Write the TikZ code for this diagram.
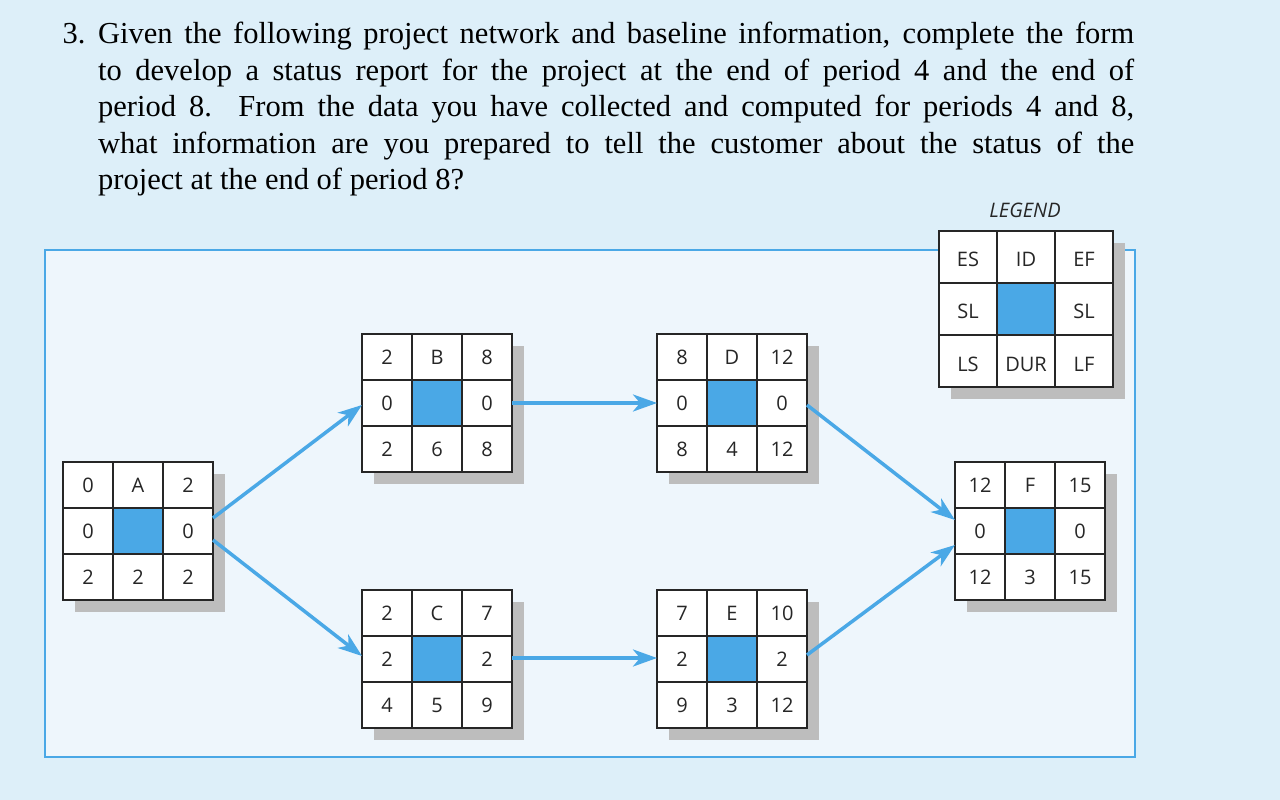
\documentclass[tikz,border=0pt]{standalone}
\usepackage{fontspec}
\setmainfont{Liberation Serif}
\newfontfamily\nsans{Open Sans}
\usetikzlibrary{arrows.meta}
\definecolor{bg}{HTML}{DDEFF9}
\definecolor{panel}{HTML}{EEF6FC}
\definecolor{myblue}{HTML}{4AA8E6}
\definecolor{shad}{HTML}{BDBDBD}
\begin{document}
\begin{tikzpicture}[x=1pt,y=-1pt,
  cell/.style={draw=black!85,line width=1.1pt,fill=white},
  lab/.style={font=\nsans\fontsize{20}{21}\selectfont,text=black!85},
  arr/.style={draw=myblue,line width=3.5pt,-{Stealth[length=24pt,width=17pt,inset=7pt]}}]
\useasboundingbox (0,0) rectangle (1280,800);
\fill[bg] (0,0) rectangle (1280,800);
\node[anchor=north west,inner sep=0pt,text width=1036pt,align=justify,font=\fontsize{30.5}{36.5}\selectfont] (q) at (98,22)
 {\hyphenpenalty=10000\llap{3.\ \,}Given the following project network and baseline information, complete the form\linebreak to develop a status report for the project at the end of period 4 and the end of\linebreak period 8. From the data you have collected and computed for periods 4 and 8,\linebreak what information are you prepared to tell the customer about the status of the\linebreak project at the end of period 8?};
\draw[draw=myblue,line width=2.5pt,fill=panel] (45,250) rectangle (1135,757);
\newcommand{\mybox}[5]{% #1 name, #2 x,#3 y, #4 w, #5 h
  \fill[shad] (#2+12,#3+12) rectangle (#2+3*#4+12,#3+3*#5+12);
  \foreach \i in {0,1,2}{\foreach \j in {0,1,2}{
    \draw[cell] (#2+\i*#4,#3+\j*#5) rectangle (#2+\i*#4+#4,#3+\j*#5+#5);}}
  \fill[myblue] (#2+#4+1,#3+#5+1) rectangle (#2+2*#4-1,#3+2*#5-1);
  \coordinate (#1) at (#2,#3);}
\def\putlabs#1#2#3#4#5#6#7#8#9{%
  \node[lab] at (#1+25,#2+23) {#3}; \node[lab] at (#1+75,#2+23) {#4}; \node[lab] at (#1+125,#2+23) {#5};
  \node[lab] at (#1+25,#2+69) {#6}; \node[lab] at (#1+125,#2+69) {#7};
  \node[lab] at (#1+25,#2+115) {#8}; \node[lab] at (#1+75,#2+115) {#9};}
\mybox{A}{63}{462}{50}{46}\putlabs{63}{462}{0}{A}{2}{0}{0}{2}{2}\node[lab] at (188,577){2};
\mybox{B}{362}{334}{50}{46}\putlabs{362}{334}{2}{B}{8}{0}{0}{2}{6}\node[lab] at (487,449){8};
\mybox{D}{657}{334}{50}{46}\putlabs{657}{334}{8}{D}{12}{0}{0}{8}{4}\node[lab] at (782,449){12};
\mybox{C}{362}{590}{50}{46}\putlabs{362}{590}{2}{C}{7}{2}{2}{4}{5}\node[lab] at (487,705){9};
\mybox{E}{657}{590}{50}{46}\putlabs{657}{590}{7}{E}{10}{2}{2}{9}{3}\node[lab] at (782,705){12};
\mybox{F}{955}{462}{50}{46}\putlabs{955}{462}{12}{F}{15}{0}{0}{12}{3}\node[lab] at (1080,577){15};
% legend
\node[lab,font=\nsans\itshape\fontsize{20}{21}\selectfont] (legend) at (1025,210) {LEGEND};
\mybox{L}{939}{231}{58}{52}
\node[lab] at (968,259){ES}; \node[lab] at (1026,259){ID}; \node[lab] at (1084,259){EF};
\node[lab] at (968,311){SL}; \node[lab] at (1084,311){SL};
\node[lab] at (968,364){LS}; \node[lab] at (1026,364){DUR}; \node[lab] at (1084,364){LF};
% arrows
\coordinate (a1) at (213,518); \coordinate (b1) at (362,405);
\coordinate (a2) at (213,540); \coordinate (c1) at (362,656);
\coordinate (b2) at (512,403); \coordinate (d1) at (657,403);
\coordinate (c2) at (512,658); \coordinate (e1) at (657,658);
\coordinate (d2) at (807,405); \coordinate (f1) at (955,520);
\coordinate (e2) at (807,655); \coordinate (f2) at (955,545);
\draw[arr] (a1)--(b1); \draw[arr] (a2)--(c1);
\draw[arr] (b2)--(d1); \draw[arr] (c2)--(e1);
\draw[arr] (d2)--(f1); \draw[arr] (e2)--(f2);
\end{tikzpicture}
\end{document}
